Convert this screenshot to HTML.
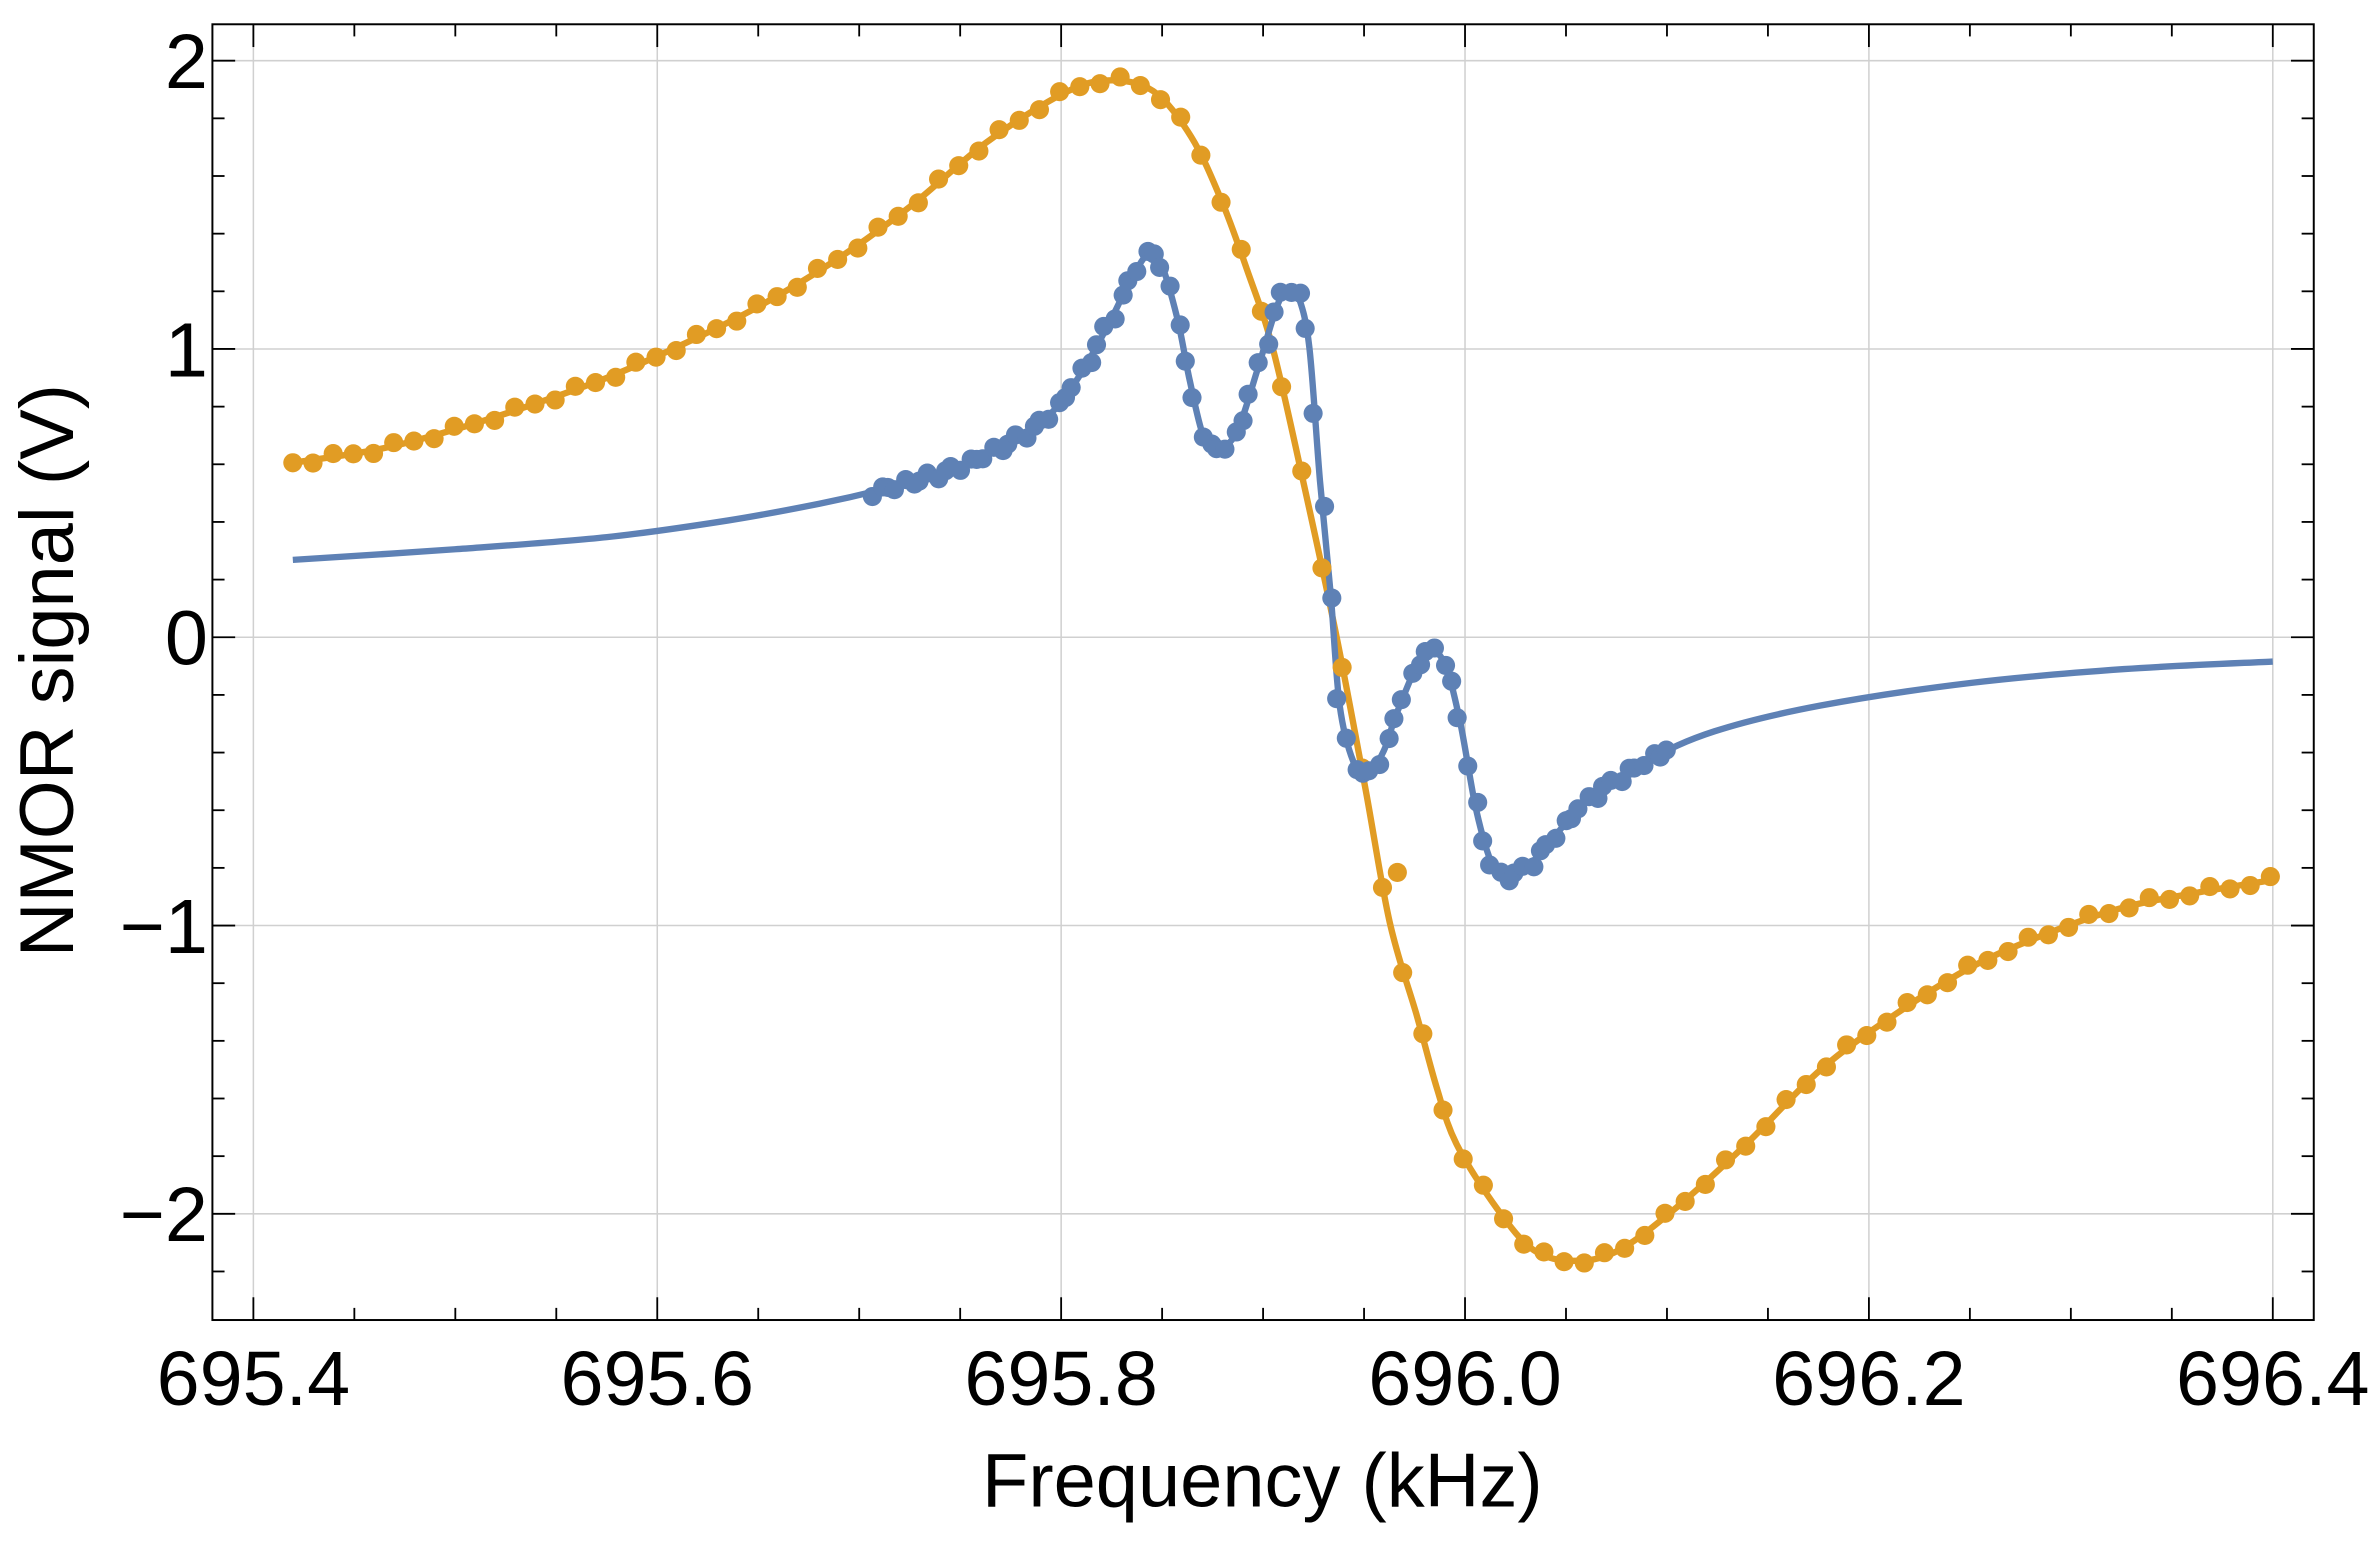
<!DOCTYPE html>
<html><head><meta charset="utf-8"><style>
html,body{margin:0;padding:0;background:#fff;}
svg{display:block;}
text{font-family:"Liberation Sans",Arial,sans-serif;fill:#000;}
</style></head><body>
<svg id="s" width="2379" height="1542" viewBox="0 0 1568 1016.3" preserveAspectRatio="none" xmlns="http://www.w3.org/2000/svg">
<g id="grid" stroke="#d0d0d0" stroke-width="1"></g>
<g id="ticks" stroke="#000" stroke-width="1.2"></g>
<rect x="140" y="16" width="1385" height="854" fill="none" stroke="#000" stroke-width="1.3"/>
<g id="labels" font-size="51"></g>
<path id="orange" fill="none" stroke="#E19C24" stroke-width="4.2"/>
<path id="blue" fill="none" stroke="#5E81B5" stroke-width="4.2"/>
<g id="odots" fill="#E19C24"></g>
<g id="bdots" fill="#5E81B5"></g>
<text x="832" y="993" font-size="50" text-anchor="middle">Frequency (kHz)</text>
<text transform="translate(48,442) rotate(-90)" font-size="50" text-anchor="middle">NMOR signal (V)</text>
</svg>
<script>
var NS="http://www.w3.org/2000/svg";
function X(f){return 167+(f-695.4)*1331;}
function Y(v){return 420-190*v;}
function el(p,t,a,txt){var e=document.createElementNS(NS,t);for(var k in a)e.setAttribute(k,a[k]);if(txt!==undefined)e.textContent=txt;p.appendChild(e);return e;}
var g=document.getElementById('grid'),tk=document.getElementById('ticks'),lb=document.getElementById('labels');
for(var i=0;i<=5;i++){var f=695.4+0.2*i,x=X(f);el(g,'line',{x1:x,y1:16,x2:x,y2:870});
 el(tk,'line',{x1:x,y1:870,x2:x,y2:855});el(tk,'line',{x1:x,y1:16,x2:x,y2:31});
 el(lb,'text',{x:x,y:926,'text-anchor':'middle'},f.toFixed(1));}
for(var i=-1;i<=20;i++){var x=X(695.4+0.05*i);if(x<140||x>1525||i%4==0)continue;
 el(tk,'line',{x1:x,y1:870,x2:x,y2:862});el(tk,'line',{x1:x,y1:16,x2:x,y2:24});}
for(var v=-2;v<=2;v++){var y=Y(v);el(g,'line',{x1:140,y1:y,x2:1525,y2:y});
 el(tk,'line',{x1:140,y1:y,x2:155,y2:y});el(tk,'line',{x1:1525,y1:y,x2:1510,y2:y});
 el(lb,'text',{x:137,y:y+18,'text-anchor':'end'},v<0?'\u2212'+(-v):''+v);}
for(var k=-12;k<=12;k++){if(k%5==0)continue;var y=Y(k*0.2);if(y<16||y>870)continue;
 el(tk,'line',{x1:140,y1:y,x2:148,y2:y});el(tk,'line',{x1:1525,y1:y,x2:1517,y2:y});}
function cr(p){var d='M'+p[0][0]+','+p[0][1];for(var i=0;i<p.length-1;i++){var p0=p[i-1]||p[i],p1=p[i],p2=p[i+1],p3=p[i+2]||p2;
 d+=' C'+(p1[0]+(p2[0]-p0[0])/6)+','+(p1[1]+(p2[1]-p0[1])/6)+' '+(p2[0]-(p3[0]-p1[0])/6)+','+(p2[1]-(p3[1]-p1[1])/6)+' '+p2[0]+','+p2[1];}return d;}
var O=[[193,305],[250,296],[300,283],[350,267],[400,249],[450,227],[500,202],[550,172],[600,136],[650,94],[700,62],[730,53],[760,60],[785,90],[805,132],[822,178],[839,230],[860,322],[881,420],[900,520],[916,608],[934,670],[947,717],[960,754],[987,797],[1011,824],[1037,831],[1065,825],[1100,800],[1150,755],[1200,705],[1250,668],[1300,637],[1350,615],[1400,598],[1450,588],[1498,580]];
var B=[[193,369],[300,362],[400,354],[480,343],[540,332],[580,323],[620,312],[660,295],[690,275],[710,250],[730,215],[745,185],[757,167],[765,173],[776,210],[784,250],[793,287],[802,296],[815,285],[829,243],[842,201],[850,190],[856,196],[863,229],[870,317],[877,391],[883,465],[892,502],[901,511],[912,495],[921,469],[938,432],[951,435],[962,474],[973,534],[984,571],[993,578],[1011,567],[1044,530],[1085,502],[1130,482],[1200,465],[1300,450],[1400,441],[1498,436]];
var po=document.getElementById('orange'),pb=document.getElementById('blue');
po.setAttribute('d',cr(O));pb.setAttribute('d',cr(B));
function sampler(path){var L=path.getTotalLength(),pts=[];for(var s=0;s<=L;s+=0.5){pts.push(path.getPointAtLength(s));}
 return function(x){for(var i=0;i<pts.length-1;i++){if(pts[i].x<=x&&pts[i+1].x>=x){var t=(x-pts[i].x)/((pts[i+1].x-pts[i].x)||1);return pts[i].y+t*(pts[i+1].y-pts[i].y);}}return null;};}
var od=document.getElementById('odots'),bd=document.getElementById('bdots');
var so=sampler(po),sb=sampler(pb);
for(var x=193,i=0;x<=1498;x+=13.3,i++){var y=so(x);if(y===null)continue;el(od,'circle',{cx:x,cy:y+Math.sin(i*2.1)*2.5,r:6.3});}
el(od,'circle',{cx:921,cy:575,r:6.3});
for(var x=575,i=0;x<=1100;x+=5.3,i++){var y=sb(x);if(y===null)continue;el(bd,'circle',{cx:x+Math.sin(i*1.7)*1.5,cy:y+Math.cos(i*2.3)*3,r:6.3});}
</script>
</body></html>
